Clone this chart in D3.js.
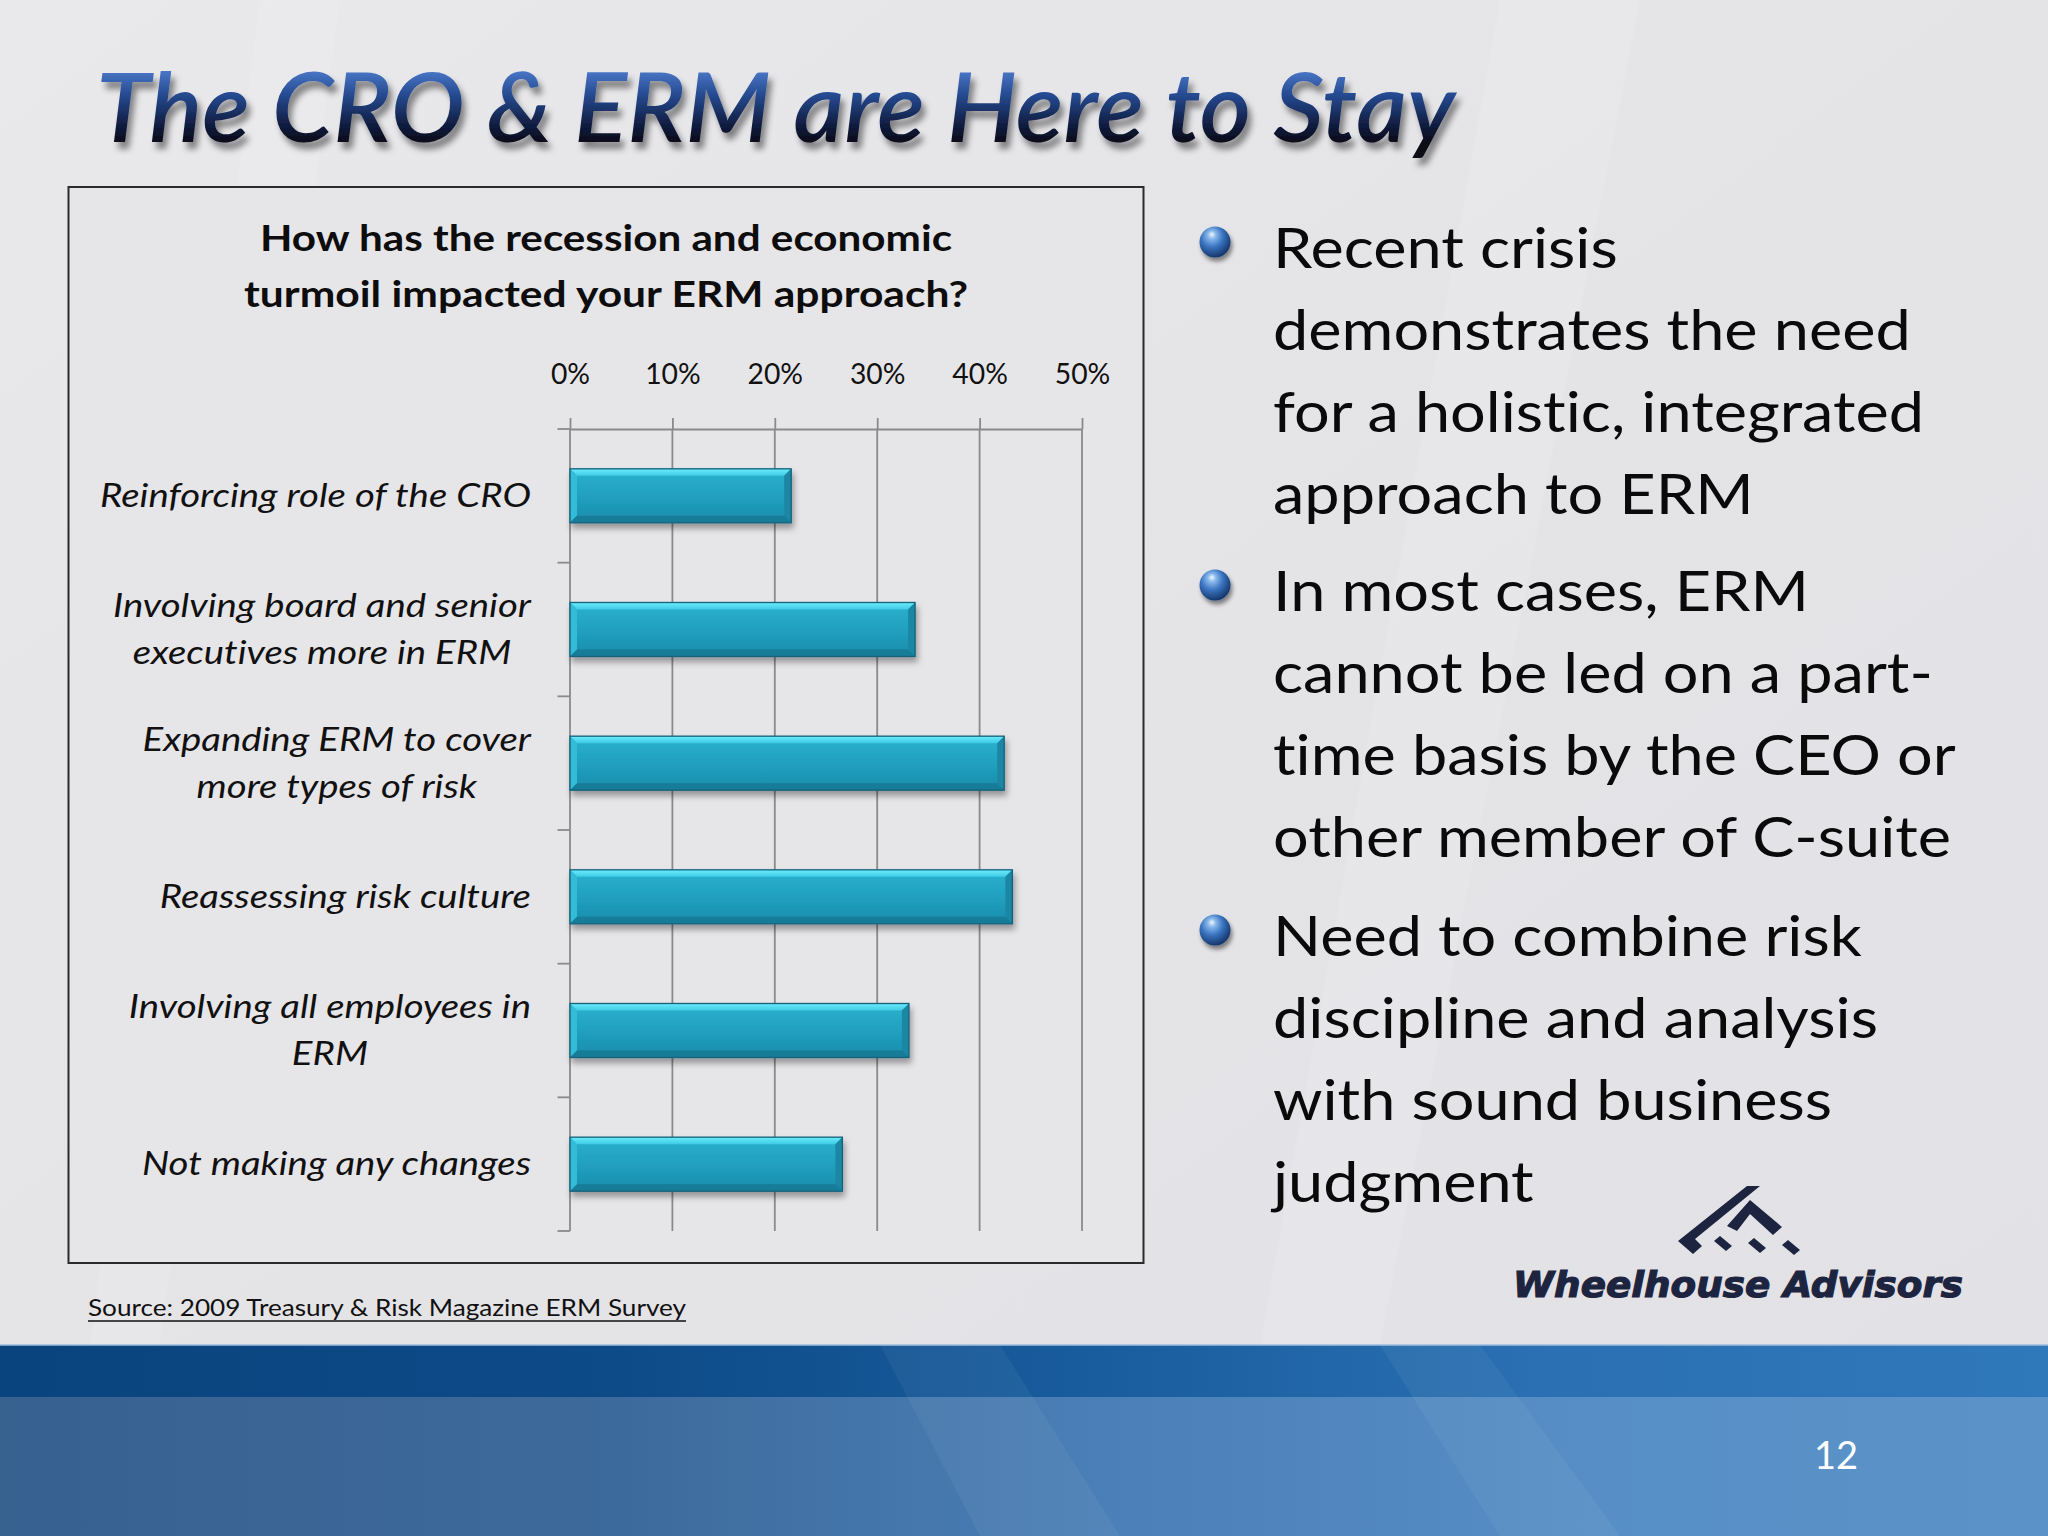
<!DOCTYPE html>
<html><head><meta charset="utf-8">
<script src="https://cdn.jsdelivr.net/npm/d3@7"></script>
<style>html,body{margin:0;padding:0;background:#e4e3e6;} svg{display:block} text{font-variant-ligatures:none;font-feature-settings:"liga" 0,"clig" 0;}</style>
</head><body><svg id="c" width="2048" height="1536"></svg>
<script>
// ---------------- data ----------------
const slideTitle = "The CRO & ERM are Here to Stay";
const chartTitle = ["How has the recession and economic", "turmoil impacted your ERM approach?"];
const categories = [
  "Reinforcing role of the CRO",
  "Involving board and senior executives more in ERM",
  "Expanding ERM to cover more types of risk",
  "Reassessing risk culture",
  "Involving all employees in ERM",
  "Not making any changes"
];
const categoryLines = [
  ["Reinforcing role of the CRO"],
  ["Involving board and senior", "executives more in ERM"],
  ["Expanding ERM to cover", "more types of risk"],
  ["Reassessing risk culture"],
  ["Involving all employees in", "ERM"],
  ["Not making any changes"]
];
const values = [21.6, 33.7, 42.4, 43.2, 33.1, 26.6];
const tickValues = [0, 10, 20, 30, 40, 50];
const tickLabels = ["0%", "10%", "20%", "30%", "40%", "50%"];
const bulletParagraphs = [
  ["Recent crisis", "demonstrates the need", "for a holistic, integrated", "approach to ERM"],
  ["In most cases, ERM", "cannot be led on a part-", "time basis by the CEO or", "other member of C-suite"],
  ["Need to combine risk", "discipline and analysis", "with sound business", "judgment"]
];
const sourceNote = "Source: 2009 Treasury & Risk Magazine ERM Survey";
const logoText = "Wheelhouse Advisors";
const pageNumber = "12";

// ---------------- setup ----------------
const FONT = "Lato, 'Open Sans', 'DejaVu Sans', sans-serif";
const svg = d3.select("#c");
const defs = svg.append("defs");

function lin(id, stops, vertical = true, attrs = {}) {
  const g = defs.append("linearGradient").attr("id", id)
    .attr("x1", 0).attr("y1", 0).attr("x2", vertical ? 0 : 1).attr("y2", vertical ? 1 : 0);
  Object.entries(attrs).forEach(([k, v]) => g.attr(k, v));
  stops.forEach(([o, c, op]) => g.append("stop").attr("offset", o).attr("stop-color", c).attr("stop-opacity", op == null ? 1 : op));
  return g;
}
function shadow(id, dx, dy, sd, op) {
  defs.append("filter").attr("id", id).attr("x", "-20%").attr("y", "-40%").attr("width", "150%").attr("height", "200%")
    .append("feDropShadow").attr("dx", dx).attr("dy", dy).attr("stdDeviation", sd)
    .attr("flood-color", "#000").attr("flood-opacity", op);
}
function measure(str, size, weight, style) {
  const t = svg.append("text").attr("font-family", FONT).attr("font-size", size)
    .attr("font-weight", weight).attr("font-style", style).text(str);
  const w = t.node().getComputedTextLength(); t.remove(); return w;
}
function squeeze(sel, k) {
  sel.each(function () {
    const L = this.getComputedTextLength();
    d3.select(this).attr("textLength", L * k).attr("lengthAdjust", "spacingAndGlyphs");
  });
}

lin("bg", [[0, "#e9e8eb"], [0.5, "#e4e3e6"], [1, "#e2e1e5"]], false, {x2: 1, y2: 1});
lin("titleGrad", [[0, "#4a78c8"], [0.35, "#25498f"], [0.75, "#111d40"], [1, "#070a18"]], true,
  {gradientUnits: "userSpaceOnUse", x1: 0, y1: 70, x2: 0, y2: 143});
lin("barFill", [[0, "#2ab2ce"], [0.5, "#21a0bf"], [1, "#1b8cab"]]);
lin("bevelTop", [[0, "#6cecfc"], [1, "#3fcbe6"]]);
lin("bandDark", [[0, "#0a447e"], [0.3, "#0d4a88"], [0.55, "#1a5e9f"], [0.75, "#2a70b2"], [1, "#2f78b9"]], false);
lin("bandLight", [[0, "#37618f"], [0.3, "#3d6a9c"], [0.55, "#4b80b8"], [0.8, "#5790c6"], [1, "#5b93c8"]], false);
shadow("titleShadow", 4, 7, 3, 0.45);
shadow("barShadow", 2, 5, 3, 0.35);
shadow("orbShadow", 2, 4, 2, 0.45);
const orb = defs.append("radialGradient").attr("id", "orb").attr("cx", "40%").attr("cy", "35%").attr("r", "65%").attr("fx", "40%").attr("fy", "25%");
[[0, "#f2f8ff"], [0.2, "#8ab9ec"], [0.55, "#3a74c0"], [1, "#16386c"]].forEach(([o, c]) => orb.append("stop").attr("offset", o).attr("stop-color", c));

// background
svg.append("rect").attr("width", 2048).attr("height", 1536).attr("fill", "url(#bg)");
[[1500, 0, 1640, 0, 1380, 1345, 1260, 1345], [260, 0, 340, 0, 160, 1345, 90, 1345]].forEach(p => {
  svg.append("polygon").attr("points", `${p[0]},${p[1]} ${p[2]},${p[3]} ${p[4]},${p[5]} ${p[6]},${p[7]}`)
    .attr("fill", "#ffffff").attr("opacity", 0.12);
});

// ---------------- slide title ----------------
svg.append("text").attr("x", 96).attr("y", 142)
  .attr("font-family", FONT).attr("font-size", 97).attr("font-weight", 600).attr("font-style", "italic")
  .attr("fill", "url(#titleGrad)").attr("filter", "url(#titleShadow)")
  .attr("textLength", 1359).attr("lengthAdjust", "spacingAndGlyphs").text(slideTitle);

// ---------------- chart box ----------------
svg.append("rect").attr("x", 68.5).attr("y", 187).attr("width", 1075).attr("height", 1076)
  .attr("fill", "#e6e5e8").attr("stroke", "#2b2b2b").attr("stroke-width", 2);

const ct = svg.append("g").attr("font-family", FONT).attr("font-size", 37).attr("font-weight", 700).attr("fill", "#0d0d0d");
const ctWidths = [692, 724];
chartTitle.forEach((line, i) => {
  ct.append("text").attr("x", 606).attr("y", 251 + i * 56).attr("text-anchor", "middle")
    .attr("textLength", ctWidths[i]).attr("lengthAdjust", "spacingAndGlyphs").text(line);
});

// scales
const x = d3.scaleLinear().domain([0, 50]).range([570, 1082]);
const y = d3.scaleBand().domain(categories).range([429, 1231]).paddingInner(0.596).paddingOuter(0.298);
const chart = svg.append("g");
const GRID = "#8a8a8a";

// vertical gridlines
chart.selectAll("line.grid").data(tickValues).join("line").attr("class", "grid")
  .attr("x1", d => x(d)).attr("x2", d => x(d)).attr("y1", 429).attr("y2", y.range()[1])
  .attr("stroke", GRID).attr("stroke-width", 1.8);

// category boundary ticks on the left
const boundaries = d3.range(categories.length + 1).map(i => y.range()[0] + i * y.step());
chart.selectAll("line.ctick").data(boundaries).join("line").attr("class", "ctick")
  .attr("x1", x(0) - 12.5).attr("x2", x(0)).attr("y1", d => d).attr("y2", d => d)
  .attr("stroke", GRID).attr("stroke-width", 1.8);

// top axis
const axis = chart.append("g").attr("transform", "translate(0,429)")
  .call(d3.axisTop(x).tickValues(tickValues).tickFormat((d, i) => tickLabels[i])
    .tickSizeInner(11).tickSizeOuter(0).tickPadding(34));
axis.select(".domain").attr("stroke", GRID).attr("stroke-width", 1.8);
axis.selectAll(".tick line").attr("stroke", GRID).attr("stroke-width", 1.8);
const tickText = axis.selectAll(".tick text").attr("font-family", FONT).attr("font-size", 29)
  .attr("font-weight", 400).attr("fill", "#111");
squeeze(tickText, 55.5 / measure("10%", 29, 400, "normal"));

// bars
const barData = values.map((v, i) => ({v, c: categories[i]}));
const bars = chart.selectAll("g.bar").data(barData).join("g").attr("class", "bar").attr("filter", "url(#barShadow)");
bars.each(function (d) {
  const g = d3.select(this);
  const x0 = x(0), x1 = x(d.v), y0 = y(d.c), h = y.bandwidth(), y1 = y0 + h, b = 7;
  g.append("rect").attr("x", x0).attr("y", y0).attr("width", x1 - x0).attr("height", h).attr("fill", "url(#barFill)");
  g.append("path").attr("d", `M${x0},${y0}L${x1},${y0}L${x1 - b},${y0 + b}L${x0 + b},${y0 + b}Z`).attr("fill", "url(#bevelTop)");
  g.append("path").attr("d", `M${x0},${y0}L${x0 + b},${y0 + b}L${x0 + b},${y1 - b}L${x0},${y1}Z`).attr("fill", "#33bcd8");
  g.append("path").attr("d", `M${x1},${y0}L${x1},${y1}L${x1 - b},${y1 - b}L${x1 - b},${y0 + b}Z`).attr("fill", "#1b87a4");
  g.append("path").attr("d", `M${x0},${y1}L${x1},${y1}L${x1 - b},${y1 - b}L${x0 + b},${y1 - b}Z`).attr("fill", "#177b98");
  g.append("rect").attr("x", x0).attr("y", y0).attr("width", x1 - x0).attr("height", h)
    .attr("fill", "none").attr("stroke", "#13627a").attr("stroke-width", 1.3);
});

// category labels
const kLab = 431 / measure(categoryLines[0][0], 33, 400, "italic");
const labels = chart.selectAll("g.lab").data(categories).join("g").attr("class", "lab")
  .attr("font-family", FONT).attr("font-size", 33).attr("font-style", "italic").attr("fill", "#111");
labels.each(function (c, i) {
  const g = d3.select(this);
  const lines = categoryLines[i];
  const cy = y(c) + y.bandwidth() / 2;
  const ts = g.selectAll("text").data(lines).join("text")
    .attr("y", (l, j) => cy + 11 + (j - (lines.length - 1) / 2) * 47).attr("text-anchor", "middle").text(l => l);
  squeeze(ts, kLab);
  let maxW = 0;
  ts.each(function () { maxW = Math.max(maxW, +this.getAttribute("textLength")); });
  ts.attr("x", 531 - maxW / 2);
});

// source note
svg.append("text").attr("x", 88).attr("y", 1316).attr("font-family", FONT).attr("font-size", 24)
  .attr("fill", "#111").attr("textLength", 598).attr("lengthAdjust", "spacingAndGlyphs").text(sourceNote);
svg.append("line").attr("x1", 88).attr("x2", 686).attr("y1", 1321).attr("y2", 1321).attr("stroke", "#111").attr("stroke-width", 1.6);

// ---------------- bullets ----------------
const kB = 651 / measure("for a holistic, integrated", 56, 400, "normal");
const paraStarts = [268, 611, 956];
const bg = svg.append("g").attr("font-family", FONT).attr("font-size", 56).attr("fill", "#0a0a0a");
bulletParagraphs.forEach((p, pi) => {
  bg.append("circle").attr("cx", 1215).attr("cy", paraStarts[pi] - 26).attr("r", 15.5)
    .attr("fill", "url(#orb)").attr("filter", "url(#orbShadow)");
  const ts = bg.selectAll(null).data(p).join("text").attr("x", 1273)
    .attr("y", (l, j) => paraStarts[pi] + j * 82).text(l => l);
  squeeze(ts, kB);
});

// ---------------- logo ----------------
const logo = svg.append("g").attr("fill", "#1d2440");
logo.append("polygon").attr("points", "1747,1186 1760,1186 1695,1239 1702,1246 1693,1254 1678,1241");
logo.append("polygon").attr("points", "1727,1226 1750,1200 1782,1227 1773,1235 1750,1214 1737,1231");
[[1714, 1236], [1748, 1238], [1782, 1240]].forEach(([a, b]) => {
  logo.append("polygon").attr("points", `${a},${b + 5} ${a + 6},${b} ${a + 18},${b + 10} ${a + 12},${b + 15}`);
});
logo.append("text").attr("x", 1513).attr("y", 1297).attr("font-family", "'DejaVu Sans', sans-serif")
  .attr("font-size", 36).attr("font-weight", 700).attr("font-style", "italic")
  .attr("stroke", "#1d2440").attr("stroke-width", 1.2)
  .attr("textLength", 450).attr("lengthAdjust", "spacingAndGlyphs").text(logoText);

// ---------------- bottom band ----------------
svg.append("rect").attr("x", 0).attr("y", 1345).attr("width", 2048).attr("height", 52).attr("fill", "url(#bandDark)");
svg.append("rect").attr("x", 0).attr("y", 1397).attr("width", 2048).attr("height", 139).attr("fill", "url(#bandLight)");
svg.append("line").attr("x1", 0).attr("x2", 2048).attr("y1", 1345).attr("y2", 1345).attr("stroke", "#9fbcdc").attr("stroke-width", 1.5);
[[880, 1345, 1000, 1345, 1120, 1536, 980, 1536], [1380, 1345, 1480, 1345, 1620, 1536, 1500, 1536]].forEach(p => {
  svg.append("polygon").attr("points", `${p[0]},${p[1]} ${p[2]},${p[3]} ${p[4]},${p[5]} ${p[6]},${p[7]}`)
    .attr("fill", "#ffffff").attr("opacity", 0.05);
});
svg.append("text").attr("x", 1836).attr("y", 1469).attr("text-anchor", "middle").attr("font-family", FONT)
  .attr("font-size", 38).attr("fill", "#ffffff").text(pageNumber);
</script>
</body></html>
